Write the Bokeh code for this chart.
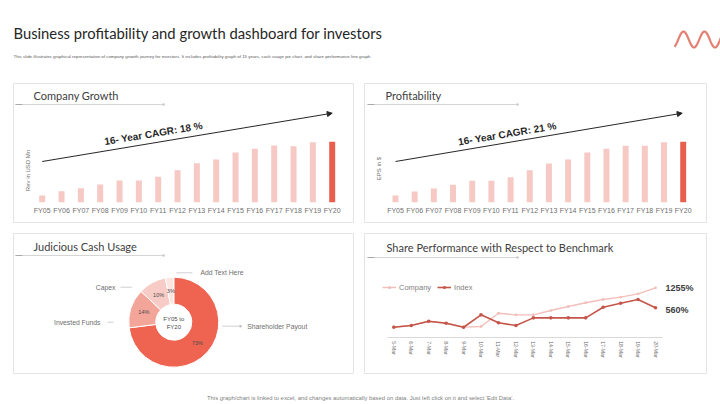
import math
import numpy as np
from bokeh.plotting import figure
from bokeh.layouts import column, row
from bokeh.models import (Range1d, LinearAxis, FixedTicker, Arrow, NormalHead,
                          Legend, LegendItem)
from bokeh.core.properties import value
from bokeh.embed import file_html
from bokeh.resources import INLINE

# ---------------------------------------------------------------- data
years = ["FY05", "FY06", "FY07", "FY08", "FY09", "FY10", "FY11", "FY12",
         "FY13", "FY14", "FY15", "FY16", "FY17", "FY18", "FY19", "FY20"]
revenue_usd_mn = [20, 33, 42, 53, 65, 65, 76, 96, 117, 128, 149, 160, 170, 168, 180, 181]
eps_usd = [0.20, 0.32, 0.41, 0.52, 0.64, 0.64, 0.74, 0.95, 1.15, 1.27, 1.48, 1.59,
           1.68, 1.68, 1.79, 1.80]
revenue_cagr_pct = 18
eps_cagr_pct = 21

cash_uses = ["Shareholder Payout", "Invested Funds", "Capex", "Add Text Here"]
cash_share_pct = [73, 14, 10, 3]

trade_days = ["5-Mar", "6-Mar", "7-Mar", "8-Mar", "9-Mar", "10-Mar", "11-Mar", "12-Mar",
              "13-Mar", "14-Mar", "15-Mar", "16-Mar", "17-Mar", "18-Mar", "19-Mar", "20-Mar"]
company_return_pct = [-105, -50, 85, 30, -110, -90, 370, 315, 315, 465, 605, 735,
                      850, 930, 1045, 1255]
index_return_pct = [-115, -55, 95, 25, -115, 315, 40, -55, 210, 210, 210, 210,
                    580, 720, 850, 560]

# ---------------------------------------------------------------- style
TITLE_FONT = "Lato"
BODY_FONT = "Liberation Sans"
DARK_TEXT = "#262626"
TITLE_TEXT = "#404040"
SOFT_TEXT = "#6E6E6E"
BAR_LIGHT = "#F6C9C4"
BAR_DARK = "#E8604D"
PIE_COLORS = ["#EF6351", "#F4A59A", "#F8CCC6", "#FCE4E1"]
COMPANY_COLOR = "#F2BFBB"
INDEX_COLOR = "#C5554A"
CARD_EDGE = "#E4E4E4"


class Card:
    """A panel whose plot frame is the card itself.

    X()/Y() turn page pixel positions into the card's data units, so the
    decorations can be laid out on the page grid while the marks use the
    card's own scales.
    """

    def __init__(self, fig_x, fig_y, fig_w, fig_h, left, top, frame_w, frame_h, xmap, ymap):
        pa, va, pb, vb = xmap
        qa, wa, qb, wb = ymap
        self.pa, self.xa, self.xs = pa, va, (vb - va) / (pb - pa)
        self.qa, self.ya, self.ys = qa, wa, (wb - wa) / (qb - qa)
        fl, ft = fig_x + left, fig_y + top
        self.fig = figure(
            width=fig_w, height=fig_h,
            x_range=Range1d(self.X(fl), self.X(fl + frame_w)),
            y_range=Range1d(self.Y(ft + frame_h), self.Y(ft)),
            x_axis_type=None, y_axis_type=None,
            toolbar_location=None, output_backend="svg",
            min_border_left=left, min_border_right=fig_w - left - frame_w,
            min_border_top=top, min_border_bottom=fig_h - top - frame_h,
            outline_line_color=CARD_EDGE, outline_line_width=1,
            background_fill_color="white", border_fill_color="white",
        )

    def X(self, px):
        return self.xa + (px - self.pa) * self.xs

    def Y(self, py):
        return self.ya + (py - self.qa) * self.ys

    def text(self, px, py, txt, size, color=SOFT_TEXT, font=BODY_FONT, align="left",
             style="normal", angle=0.0):
        self.fig.text(x=[self.X(px)], y=[self.Y(py)], text=[txt],
                      text_font=value(font), text_font_size=size, text_color=color,
                      text_align=align, text_baseline="middle", text_font_style=style,
                      angle=angle)

    def hline(self, x0, x1, py, color="#D6D6D6", width=1):
        self.fig.line(x=[self.X(x0), self.X(x1)], y=[self.Y(py), self.Y(py)],
                      line_color=color, line_width=width)

    def heading(self, txt, px, py, rule_x0, rule_x1, rule_y):
        self.text(px, py, txt, "11px", color=TITLE_TEXT, font=TITLE_FONT)
        self.hline(rule_x0, rule_x1, rule_y)
        self.hline(rule_x0, rule_x0 + 7, rule_y, color="#A8A8A8")
        self.fig.scatter(x=[self.X(rule_x1)], y=[self.Y(rule_y)], size=2.5,
                         fill_color="#C8C8C8", line_color=None)


def growth_card(card, values, cagr, unit_label, unit_x, unit_y, arrow_from, arrow_to, note_at):
    f = card.fig
    idx = list(range(len(values)))
    colors = [BAR_LIGHT] * (len(values) - 1) + [BAR_DARK]
    f.vbar(x=idx, top=values, width=0.31, fill_color=colors, line_color=None)
    axis = LinearAxis(fixed_location=0, ticker=FixedTicker(ticks=idx),
                      major_label_overrides={i: y for i, y in zip(idx, years)},
                      axis_line_color=None, major_tick_line_color=None,
                      major_tick_in=0, major_tick_out=0,
                      minor_tick_line_color=None, major_label_standoff=5,
                      major_label_text_font=BODY_FONT, major_label_text_font_size="7px",
                      major_label_text_color=SOFT_TEXT)
    f.add_layout(axis, "below")
    card.text(unit_x, unit_y, unit_label, "6px", align="center", angle=math.pi / 2)
    (x0, y0), (x1, y1) = arrow_from, arrow_to
    f.add_layout(Arrow(x_start=card.X(x0), y_start=card.Y(y0),
                       x_end=card.X(x1), y_end=card.Y(y1),
                       line_color=DARK_TEXT, line_width=1,
                       end=NormalHead(size=5, fill_color=DARK_TEXT, line_color=DARK_TEXT)))
    tilt = math.atan2(y0 - y1, x1 - x0)
    card.text(note_at[0], note_at[1], f"16- Year CAGR: {cagr} %", "10px",
              color=DARK_TEXT, align="center", style="bold", angle=tilt)


# ---------------------------------------------------------------- header
header = figure(width=720, height=76, x_range=Range1d(0, 720), y_range=Range1d(76, 0),
                x_axis_type=None, y_axis_type=None, toolbar_location=None,
                output_backend="svg", min_border=0, outline_line_color=None)
header.text(x=[13], y=[32], text=["Business profitability and growth dashboard for investors"],
            text_font=value(TITLE_FONT), text_font_size="14.8px", text_color=DARK_TEXT,
            text_baseline="middle")
header.text(x=[13], y=[56],
            text=["This slide illustrates graphical representation of company growth journey "
                  "for investors. It includes profitability graph of 15 years, cash usage pie "
                  "chart, and share performance line graph."],
            text_font=value(BODY_FONT), text_font_size="4.4px", text_color="#595959",
            text_baseline="middle")
# decorative squiggle in the top-right corner
wave_x = np.linspace(674, 722, 90)
wave_y = 39 - 8 * np.sin((wave_x - 683) / 21.0 * 2 * math.pi + math.pi / 2)
header.line(x=wave_x, y=wave_y, line_color="#E07263", line_width=2.2, line_alpha=0.9)

# ---------------------------------------------------------------- company growth
c1 = Card(0, 76, 360, 152, 13, 7, 340, 139,
          xmap=(41.7, 0, 331.7, len(years) - 1),
          ymap=(201.7, 0, 141.3, revenue_usd_mn[-1]))
c1.heading("Company Growth", 33, 95, 15, 163, 104)
growth_card(c1, revenue_usd_mn, revenue_cagr_pct, "Rev in USD Mn", 27, 170,
            (41.7, 161), (331.7, 112.7), (153, 133))

# ---------------------------------------------------------------- profitability
c2 = Card(360, 76, 360, 152, 4, 7, 342, 139,
          xmap=(395, 0, 682.7, len(years) - 1),
          ymap=(201.7, 0, 141.3, eps_usd[-1]))
c2.heading("Profitability", 385, 95, 367, 517, 104)
growth_card(c2, eps_usd, eps_cagr_pct, "EPS in $", 378, 168,
            (395, 161), (681.7, 112.7), (506.7, 133.3))

# ---------------------------------------------------------------- cash usage donut
c3 = Card(0, 228, 360, 152, 13, 5, 340, 140,
          xmap=(173.3, 0, 174.3, 1), ymap=(321.7, 0, 320.7, 1))
c3.heading("Judicious Cash Usage", 33, 246, 15, 163, 255)
fracs = np.array(cash_share_pct, dtype=float) / sum(cash_share_pct)
before = np.concatenate([[0.0], np.cumsum(fracs)[:-1]])
after = np.cumsum(fracs)
c3.fig.annular_wedge(x=0, y=0, inner_radius=18, outer_radius=45,
                     start_angle=math.pi / 2 - 2 * math.pi * before,
                     end_angle=math.pi / 2 - 2 * math.pi * after,
                     direction="clock", fill_color=PIE_COLORS,
                     line_color="white", line_width=1)
mid = math.pi / 2 - 2 * math.pi * (before + fracs / 2)
c3.fig.text(x=31.5 * np.cos(mid), y=31.5 * np.sin(mid),
            text=[f"{v}%" for v in cash_share_pct],
            text_font=value(BODY_FONT), text_font_size="5.5px", text_color="#4A4A4A",
            text_align="center", text_baseline="middle")
c3.text(173.3, 318, f"{years[0]} to", "6px", color="#4A4A4A", align="center")
c3.text(173.3, 326, years[-1], "6px", color="#4A4A4A", align="center")
# callouts: Shareholder Payout, Invested Funds, Capex, Add Text Here
c3.hline(221.7, 240, 325.7, color="#D0D0D0")
c3.fig.scatter(x=[c3.X(240)], y=[c3.Y(325.7)], size=2.5, fill_color="#BDBDBD", line_color=None)
c3.text(246.7, 325.7, cash_uses[0], "6.8px")
c3.hline(107, 113, 321.7, color="#D0D0D0")
c3.text(100, 321.7, cash_uses[1], "6.8px", align="right")
c3.hline(120, 131.7, 286.7, color="#D0D0D0")
c3.text(115, 286.7, cash_uses[2], "6.8px", align="right")
c3.hline(176, 192, 272.3, color="#D0D0D0")
c3.text(200, 272.3, cash_uses[3], "6.8px")

# ---------------------------------------------------------------- share performance
c4 = Card(360, 228, 360, 152, 4, 5, 342, 140,
          xmap=(393.3, 0, 655, len(trade_days) - 1),
          ymap=(287.3, company_return_pct[-1], 307.3, index_return_pct[-1]))
c4.heading("Share Performance with Respect to Benchmark", 386, 247, 367, 517, 257)
f4 = c4.fig
days_idx = list(range(len(trade_days)))
comp_line = f4.line(x=days_idx, y=company_return_pct, line_color=COMPANY_COLOR, line_width=1.4)
comp_pts = f4.scatter(x=days_idx, y=company_return_pct, size=2.8,
                      fill_color=COMPANY_COLOR, line_color=None)
idx_line = f4.line(x=days_idx, y=index_return_pct, line_color=INDEX_COLOR, line_width=1.6)
idx_pts = f4.scatter(x=days_idx, y=index_return_pct, size=3.6,
                     fill_color=INDEX_COLOR, line_color=None)
day_axis = LinearAxis(fixed_location=c4.Y(336.7), ticker=FixedTicker(ticks=days_idx),
                      major_label_overrides={i: d for i, d in zip(days_idx, trade_days)},
                      bounds=(-0.35, len(trade_days) - 0.6),
                      axis_line_color="#D9D9D9", axis_line_width=1,
                      major_tick_line_color=None, minor_tick_line_color=None,
                      major_tick_in=0, major_tick_out=0,
                      major_label_orientation="vertical", major_label_standoff=4,
                      major_label_text_font=BODY_FONT, major_label_text_font_size="5.2px",
                      major_label_text_color=SOFT_TEXT)
f4.add_layout(day_axis, "below")
end_x = c4.X(665)
f4.text(x=[end_x, end_x], y=[company_return_pct[-1], index_return_pct[-1] - 80],
        text=[f"{company_return_pct[-1]}%", f"{index_return_pct[-1]}%"],
        text_font=value(BODY_FONT), text_font_size="9px", text_font_style="bold",
        text_color="#404040", text_baseline="middle")
legend = Legend(items=[LegendItem(label="Company", renderers=[comp_line, comp_pts]),
                       LegendItem(label="Index", renderers=[idx_line, idx_pts])],
                orientation="horizontal", location=(18, 81.5),
                glyph_width=14, glyph_height=8, label_height=8, label_standoff=3,
                spacing=6, padding=0, margin=0,
                label_text_font=BODY_FONT, label_text_font_size="7.5px",
                label_text_color="#7F7F7F",
                background_fill_alpha=0, border_line_alpha=0)
f4.add_layout(legend)

# ---------------------------------------------------------------- footer
footer = figure(width=720, height=24, x_range=Range1d(0, 720), y_range=Range1d(404, 380),
                x_axis_type=None, y_axis_type=None, toolbar_location=None,
                output_backend="svg", min_border=0, outline_line_color=None)
footer.text(x=[360], y=[397],
            text=["This graph/chart is linked to excel, and changes automatically based on data. "
                  "Just left click on it and select 'Edit Data'."],
            text_font=value(BODY_FONT), text_font_size="5.9px", text_color="#7F7F7F",
            text_align="center", text_baseline="middle")

page = column(header, row(c1.fig, c2.fig), row(c3.fig, c4.fig), footer)
open("out.html", "w").write(file_html(page, INLINE))
